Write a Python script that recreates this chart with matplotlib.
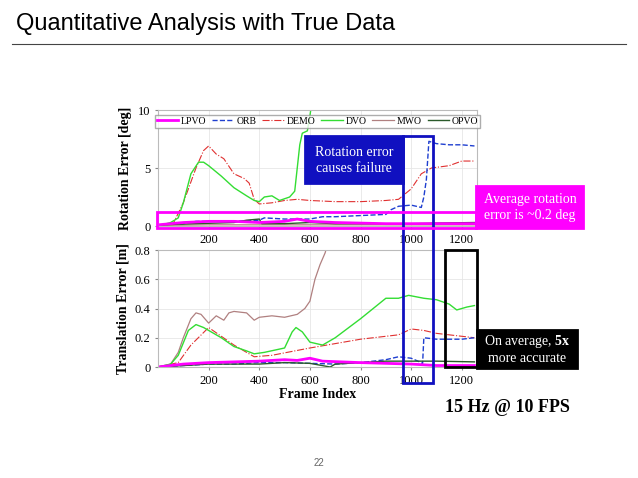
import matplotlib
matplotlib.use("Agg")
import matplotlib.pyplot as plt
from matplotlib.patches import Rectangle
from matplotlib.lines import Line2D

plt.rcParams["mathtext.fontset"] = "custom"
plt.rcParams["mathtext.rm"] = "Liberation Serif"
plt.rcParams["mathtext.bf"] = "Liberation Serif:bold"

# ---- data: rotation error [deg] ----
dvo_r_x = [0,50,80,100,130,160,180,200,250,300,350,380,400,420,450,480,520,540,550,560,570,590,600,610]
dvo_r_y = [0,0.3,0.7,2,4.5,5.5,5.5,5.2,4.3,3.3,2.6,2.2,2.1,2.5,2.6,2.2,2.5,3,5,7,8,8.2,9.5,11]
demo_r_x = [0,60,100,150,180,200,230,260,300,340,360,380,400,450,500,550,600,700,800,900,950,1000,1040,1080,1150,1200,1250]
demo_r_y = [0,0.2,2,5,6.5,6.9,6.2,5.8,4.5,4.1,3.7,2.3,1.9,2.0,2.2,2.3,2.2,2.1,2.1,2.2,2.3,3.2,4.5,5.0,5.2,5.6,5.6]
orb_r_x = [0,100,150,200,300,400,420,500,600,650,700,800,900,920,950,1000,1040,1050,1060,1070,1100,1150,1200,1250]
orb_r_y = [0.1,0.2,0.4,0.4,0.4,0.5,0.7,0.6,0.6,0.8,0.8,0.9,1.0,1.4,1.7,1.8,1.6,2.5,4,7.3,7.1,7.0,7.0,6.9]
lpvo_r_x = [0,100,200,300,400,500,550,600,700,800,900,1000,1100,1250]
lpvo_r_y = [0.1,0.3,0.4,0.4,0.3,0.4,0.6,0.4,0.3,0.25,0.2,0.2,0.2,0.2]
mwo_r_x = [0,200,400,600,800,1000,1250]
mwo_r_y = [0.05,0.1,0.1,0.1,0.1,0.1,0.1]
opvo_r_x = [0,300,350,400,410,500,600,700,800,900,1000,1100,1250]
opvo_r_y = [0.1,0.3,0.5,0.6,0.2,0.2,0.3,0.2,0.2,0.2,0.2,0.25,0.3]

# ---- data: translation error [m] ----
mwo_t_x = [0,50,80,100,130,150,170,200,230,260,280,300,350,380,400,450,500,550,580,600,620,640,660,680]
mwo_t_y = [0,0.02,0.1,0.2,0.33,0.37,0.36,0.3,0.35,0.32,0.37,0.38,0.37,0.32,0.34,0.35,0.34,0.36,0.4,0.45,0.6,0.7,0.78,0.9]
dvo_t_x = [0,50,80,120,150,180,250,300,350,380,420,500,530,545,570,600,650,700,800,850,900,950,990,1050,1100,1150,1180,1220,1250]
dvo_t_y = [0,0.02,0.08,0.25,0.29,0.27,0.2,0.14,0.11,0.09,0.1,0.13,0.24,0.27,0.24,0.17,0.15,0.2,0.33,0.4,0.47,0.47,0.49,0.47,0.46,0.43,0.39,0.41,0.42]
demo_t_x = [0,80,130,200,300,350,380,450,600,700,800,900,950,1000,1050,1100,1150,1250]
demo_t_y = [0,0.03,0.15,0.27,0.15,0.1,0.07,0.08,0.13,0.16,0.19,0.21,0.22,0.26,0.25,0.23,0.22,0.2]
orb_t_x = [0,200,300,400,500,700,800,900,950,1000,1040,1045,1050,1100,1200,1250]
orb_t_y = [0,0.02,0.02,0.03,0.03,0.02,0.03,0.05,0.07,0.06,0.03,0.02,0.2,0.19,0.19,0.2]
lpvo_t_x = [0,100,200,300,400,500,550,600,650,800,900,1000,1100,1250]
lpvo_t_y = [0,0.02,0.03,0.035,0.04,0.05,0.045,0.06,0.04,0.03,0.025,0.02,0.01,0.01]
opvo_t_x = [0,200,400,500,600,680,700,800,900,1000,1100,1250]
opvo_t_y = [0,0.02,0.02,0.03,0.025,0.0,0.02,0.03,0.04,0.04,0.04,0.035]

xticks = [200,400,600,800,1000,1200]

W, H = 638, 478
fig = plt.figure(figsize=(W/100, H/100), dpi=100)
serif = "Liberation Serif"

def fr(x0, y0, x1, y1):
    return (x0/W, 1-y1/H, (x1-x0)/W, (y1-y0)/H)

styles = {
    "LPVO": dict(color="#ff00ff", lw=2.0, ls="-"),
    "ORB": dict(color="#1f3fd0", lw=1.0, ls="--"),
    "DEMO": dict(color="#e03030", lw=0.8, ls="-."),
    "DVO": dict(color="#33dd33", lw=1.0, ls="-"),
    "MWO": dict(color="#b08080", lw=0.9, ls="-"),
    "OPVO": dict(color="#2a5a2a", lw=1.0, ls="-"),
}

ax1 = fig.add_axes(fr(158, 110, 477, 226))
ax2 = fig.add_axes(fr(158, 250, 477, 367))
top = {"LPVO": (lpvo_r_x, lpvo_r_y), "ORB": (orb_r_x, orb_r_y), "DEMO": (demo_r_x, demo_r_y),
       "DVO": (dvo_r_x, dvo_r_y), "MWO": (mwo_r_x, mwo_r_y), "OPVO": (opvo_r_x, opvo_r_y)}
bot = {"LPVO": (lpvo_t_x, lpvo_t_y), "ORB": (orb_t_x, orb_t_y), "DEMO": (demo_t_x, demo_t_y),
       "DVO": (dvo_t_x, dvo_t_y), "MWO": (mwo_t_x, mwo_t_y), "OPVO": (opvo_t_x, opvo_t_y)}
for name in ["MWO", "DEMO", "DVO", "ORB", "OPVO", "LPVO"]:
    ax1.plot(*top[name], label=name, **styles[name])
    ax2.plot(*bot[name], label=name, **styles[name])

for ax in (ax1, ax2):
    ax.set_xlim(0, 1260)
    ax.set_xticks(xticks)
    ax.grid(True, color="#e6e6e6", lw=0.6)
    ax.tick_params(labelsize=9, length=2, color="#888888")
    for lab in ax.get_xticklabels() + ax.get_yticklabels():
        lab.set_fontfamily(serif)
    for s in ax.spines.values():
        s.set_color("#bbbbbb")
ax1.set_ylim(0, 10)
ax1.set_yticks([0, 5, 10])
ax2.set_ylim(0, 0.8)
ax2.set_yticks([0, 0.2, 0.4, 0.6, 0.8])
ax2.set_yticklabels(["0", "0.2", "0.4", "0.6", "0.8"], fontfamily=serif)
ax1.set_ylabel("Rotation Error [deg]", fontfamily=serif, fontweight="bold", fontsize=10)
ax2.set_ylabel("Translation Error [m]", fontfamily=serif, fontweight="bold", fontsize=10)
ax2.set_xlabel("Frame Index", fontfamily=serif, fontweight="bold", fontsize=10, labelpad=1)
handles = [Line2D([], [], **styles[n]) for n in ["LPVO", "ORB", "DEMO", "DVO", "MWO", "OPVO"]]
ax1.legend(handles, ["LPVO", "ORB", "DEMO", "DVO", "MWO", "OPVO"], ncol=6, loc="upper center",
           prop={"family": serif, "size": 7}, handlelength=2.2, columnspacing=0.6,
           handletextpad=0.3, borderpad=0.2, bbox_to_anchor=(0.5, 1.0), fancybox=False, edgecolor="#999999")

# slide title
fig.text(16/W, 1-24/H, "Quantitative Analysis with True Data", fontsize=17, family="Liberation Sans", va="center")
fig.add_artist(Line2D([12/W, 626/W], [1-44/H, 1-44/H], color="#444444", lw=0.8))
fig.text(319/W, 1-463/H, "22", fontsize=7, color="#666666", ha="center", va="center", family="Liberation Sans")
fig.text(507/W, 1-407/H, "15 Hz @ 10 FPS", fontsize=13, fontweight="bold", family=serif, ha="center", va="center")

def rect(x0, y0, x1, y1, ec, fc="none", lw=2):
    fig.add_artist(Rectangle((x0/W, 1-y1/H), (x1-x0)/W, (y1-y0)/H, transform=fig.transFigure,
                             ec=ec, fc=fc, lw=lw))

rect(403, 136, 433, 383, "#1010c0")
rect(305, 136, 403, 183, "#1010c0", "#1010c0")
fig.text(354/W, 1-160/H, "Rotation error\ncauses failure", color="white", family=serif, fontsize=10,
         ha="center", va="center", linespacing=1.3)
rect(157, 212, 476, 228, "#ff00ff")
rect(476, 186, 583, 228, "#ff00ff", "#ff00ff")
fig.text(530/W, 1-207/H, "Average rotation\nerror is ~0.2 deg", color="white", family=serif, fontsize=10,
         ha="center", va="center", linespacing=1.3)
rect(445, 250, 477, 367, "black")
rect(477, 330, 577, 368, "black", "black")
fig.text(527/W, 1-349/H, "On average, $\\mathbf{5x}$\nmore accurate", color="white", family=serif, fontsize=10,
         ha="center", va="center", linespacing=1.3)

fig.savefig("out.png", dpi=100)
